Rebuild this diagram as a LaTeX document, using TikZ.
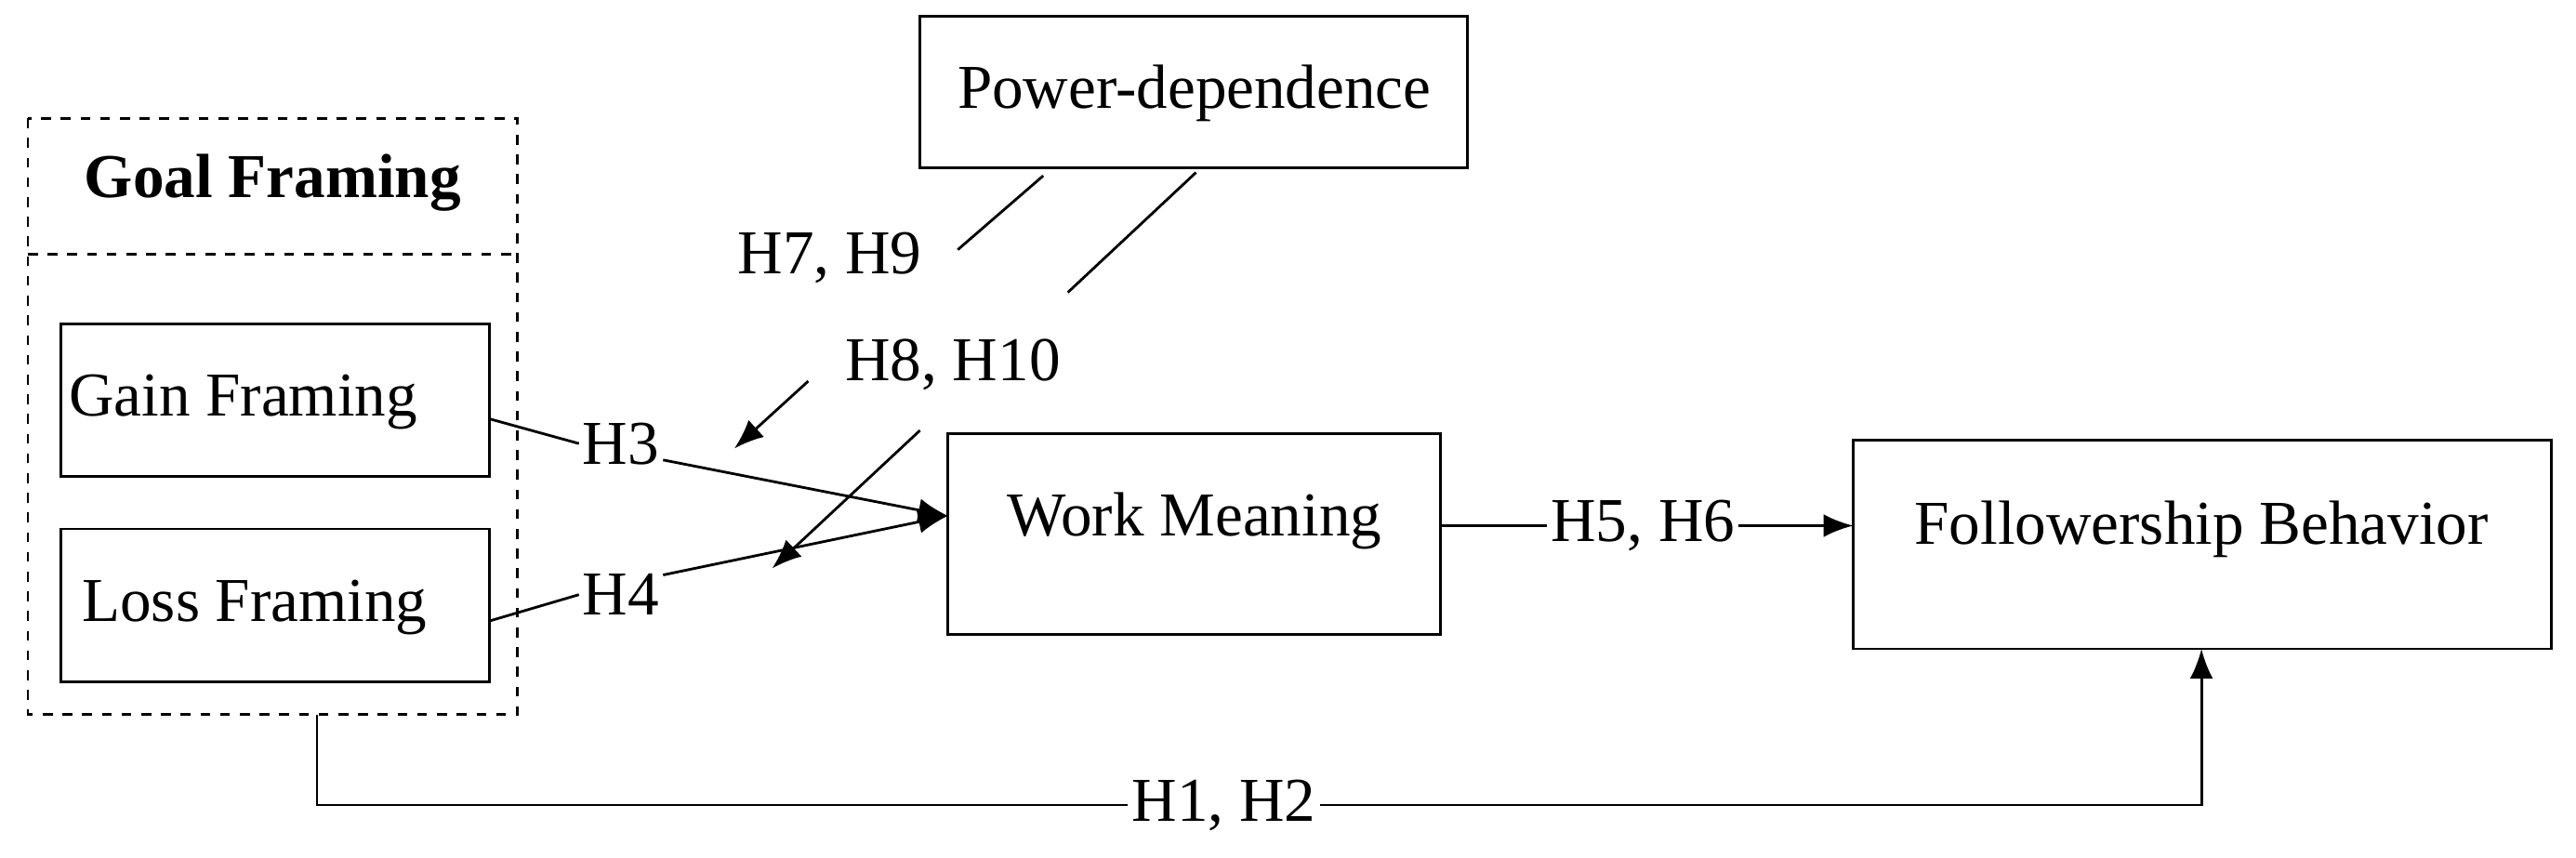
\documentclass[tikz,border=0pt]{standalone}
\usepackage{fontspec}
\setmainfont{Liberation Serif}
\usetikzlibrary{arrows.meta}
\begin{document}
\begin{tikzpicture}[x=0.5pt,y=-0.5pt,
  every node/.style={font=\fontsize{19}{22}\selectfont},
  box/.style={draw,line width=0.8pt,minimum width=#1},
  lab/.style={inner sep=1pt},
  ln/.style={line width=0.8pt},
  arr/.style={line width=0.8pt,-{Latex[length=9pt,width=7pt]}}]
\useasboundingbox (0,0) rectangle (1568,522);
\draw[dashed,line width=0.8pt] (17,72) rectangle (315,435);
\draw[dashed,line width=0.8pt] (17,155) -- (315,155);
\node[font=\fontsize{19}{22}\selectfont\bfseries] (gf) at (166,111) {Goal Framing};
\draw[ln] (37,197) rectangle (298,290); \node (gain) at (148,245) {Gain Framing};
\draw[ln] (37,322) rectangle (298,415); \node (loss) at (155,370) {Loss Framing};
\draw[ln] (560,10) rectangle (893,102); \node (pd) at (727,57) {Power-dependence};
\draw[ln] (577,264) rectangle (877,386); \node (wm) at (727,317) {Work Meaning};
\draw[ln] (1128,268) rectangle (1553,395); \node (fb) at (1340,322) {Followership Behavior};
\coordinate (wmL) at (577,314);
\node[lab] (h3) at (378,270) {H3};
\node[lab] (h4) at (378,362) {H4};
\draw[ln] (298,255) -- (h3.west);
\draw[ln] (298,378) -- (h4.west);
\draw[arr] (h3.east) ++(0,10) -- (wmL);
\draw[arr] (h4.east) ++(0,-12) -- (wmL);
\node[lab] (h79) at (505,157) {H7, H9};
\node[lab] (h810) at (580,222) {H8, H10};
\draw[ln] (583,152) -- (635,107);
\draw[ln] (650,178) -- (728,105);
\draw[arr] (492,232) -- (447,273);
\draw[arr] (560,262) -- (470,346);
\node[lab] (h56) at (1000,320) {H5, H6};
\draw[ln] (877,320) -- (h56.west);
\draw[arr] (h56.east) -- (1128,320);
\node[lab,fill=white] (h12) at (745,490) {H1, H2};
\draw[ln] (193,435) -- (193,490) -- (h12.west);
\draw[arr] (h12.east) -- (1340,490) -- (1340,395);
\end{tikzpicture}
\end{document}
